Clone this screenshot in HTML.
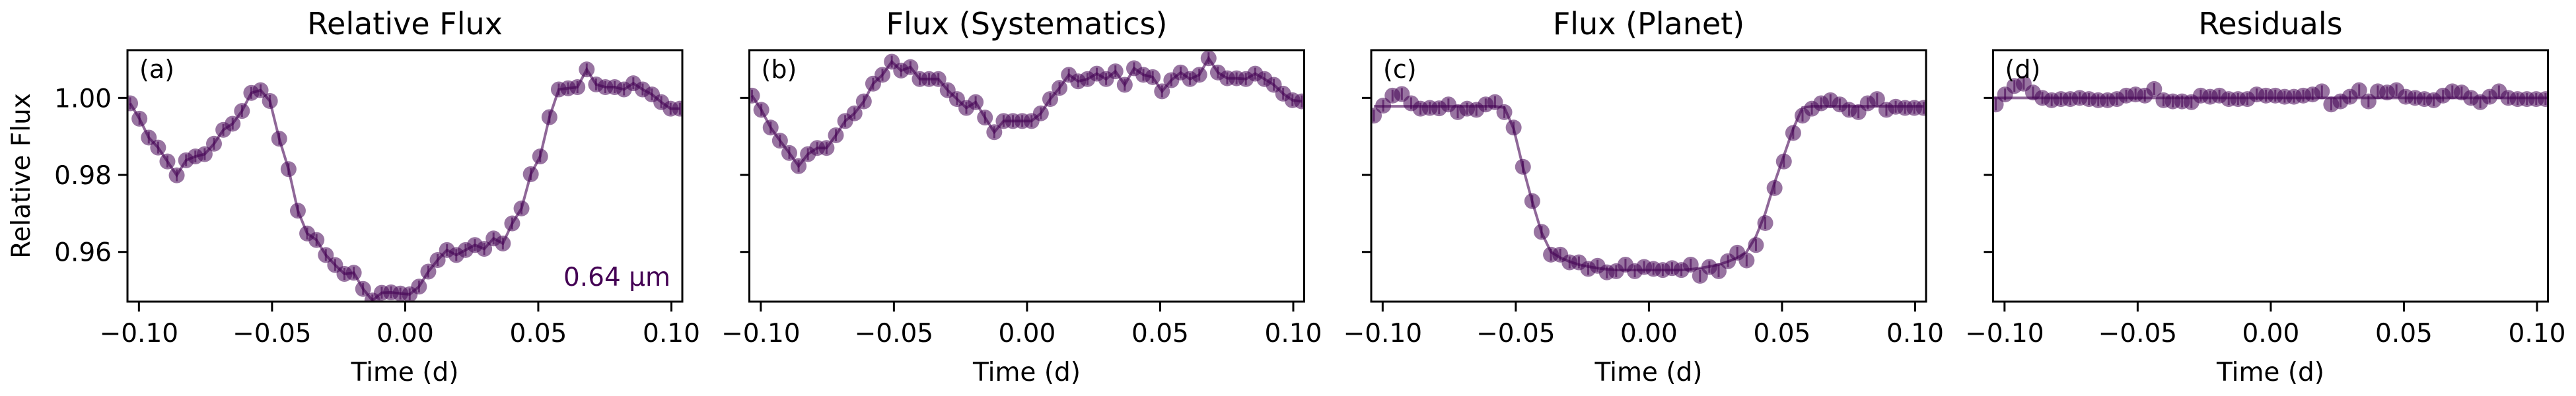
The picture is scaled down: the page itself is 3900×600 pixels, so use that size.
<!DOCTYPE html>
<html><head><meta charset="utf-8"><style>
html,body{margin:0;padding:0;background:#fff;}
svg{display:block;font-family:"DejaVu Sans","Liberation Sans",sans-serif;}
</style></head><body>
<svg id="fig" width="3900" height="600" viewBox="0 0 3900 600" xmlns="http://www.w3.org/2000/svg"></svg>
<script>
const panelTitles = ["Relative Flux","Flux (Systematics)","Flux (Planet)","Residuals"];
const panelLetters = ["(a)","(b)","(c)","(d)"];
const xTicks = [-0.10,-0.05,0.00,0.05,0.10];
const xTickLabels = ["\u22120.10","\u22120.05","0.00","0.05","0.10"];
const yTicks = [0.96,0.98,1.00];
const yTickLabels = ["0.96","0.98","1.00"];
const tStart = -0.1033, tStep = 0.0035;
const fluxA = [0.9986,0.9946,0.9897,0.9871,0.9835,0.9799,0.9838,0.9848,0.9854,0.9881,0.9917,0.9933,0.9966,1.0013,1.0020,0.9992,0.9894,0.9815,0.9707,0.9648,0.9631,0.9592,0.9566,0.9543,0.9546,0.9504,0.9474,0.9494,0.9495,0.9492,0.9490,0.9510,0.9549,0.9579,0.9605,0.9592,0.9605,0.9618,0.9608,0.9635,0.9622,0.9674,0.9713,0.9802,0.9848,0.9950,1.0022,1.0025,1.0028,1.0074,1.0035,1.0028,1.0028,1.0022,1.0038,1.0022,1.0009,0.9989,0.9972,0.9972];
const fluxB = [1.0006,0.9969,0.9923,0.9889,0.9857,0.9823,0.9854,0.9870,0.9870,0.9903,0.9940,0.9960,0.9991,1.0037,1.0060,1.0094,1.0071,1.0080,1.0049,1.0049,1.0049,1.0020,0.9997,0.9974,0.9989,0.9949,0.9911,0.9940,0.9940,0.9940,0.9940,0.9960,0.9997,1.0026,1.0060,1.0043,1.0049,1.0063,1.0049,1.0069,1.0034,1.0077,1.0060,1.0054,1.0017,1.0046,1.0066,1.0049,1.0060,1.0103,1.0066,1.0051,1.0051,1.0049,1.0063,1.0049,1.0034,1.0011,0.9994,0.9991];
const fluxC = [0.9954,0.9980,1.0006,1.0010,0.9986,0.9972,0.9974,0.9973,0.9983,0.9963,0.9972,0.9969,0.9983,0.9989,0.9963,0.9923,0.9821,0.9732,0.9652,0.9593,0.9593,0.9573,0.9573,0.9556,0.9564,0.9547,0.9550,0.9567,0.9550,0.9561,0.9556,0.9553,0.9558,0.9553,0.9567,0.9538,0.9561,0.9550,0.9576,0.9598,0.9578,0.9618,0.9675,0.9766,0.9835,0.9909,0.9954,0.9972,0.9986,0.9994,0.9983,0.9969,0.9963,0.9986,0.9997,0.9969,0.9977,0.9974,0.9974,0.9974];
const modelC = [0.9978,0.9978,0.9978,0.9978,0.9978,0.9978,0.9978,0.9978,0.9978,0.9978,0.9978,0.9978,0.9978,0.9978,0.9975,0.9920,0.9820,0.9730,0.9650,0.9600,0.9585,0.9575,0.9567,0.9562,0.9558,0.9555,0.9553,0.9553,0.9553,0.9553,0.9553,0.9553,0.9553,0.9553,0.9555,0.9558,0.9562,0.9567,0.9575,0.9585,0.9600,0.9640,0.9700,0.9780,0.9850,0.9920,0.9975,0.9978,0.9978,0.9978,0.9978,0.9978,0.9978,0.9978,0.9978,0.9978,0.9978,0.9978,0.9978,0.9978];
const resid = [0.9983,1.0009,1.0031,1.0037,1.0014,1.0000,0.9994,0.9997,0.9997,1.0000,0.9997,0.9994,0.9994,0.9997,1.0006,1.0009,1.0006,1.0023,0.9994,0.9991,0.9991,0.9989,1.0006,1.0003,1.0006,0.9997,0.9997,0.9997,1.0009,1.0006,1.0006,1.0003,1.0003,1.0006,1.0009,1.0017,0.9983,0.9991,1.0003,1.0020,0.9991,1.0017,1.0014,1.0020,1.0003,1.0000,0.9997,0.9994,1.0006,1.0017,1.0014,1.0000,0.9989,1.0003,1.0017,1.0000,0.9997,0.9997,0.9997,0.9997];
const modelD = [1.0,1.0];

const NS="http://www.w3.org/2000/svg";
const svg=document.getElementById('fig');
const lefts=[193,1134.5,2076,3017.5], W=840, TOP=76, BOT=457;
const XMIN=-0.1043, XMAX=0.1041, YMIN=0.9471, YMAX=1.0124;
const C="#440154";
function mk(tag,attrs,parent){const e=document.createElementNS(NS,tag);for(const k in attrs)e.setAttribute(k,attrs[k]);(parent||svg).appendChild(e);return e;}
const times=fluxA.map((_,i)=>tStart+i*tStep);
const series=[[fluxA,fluxA],[fluxB,fluxB],[fluxC,modelC],[resid,null]];
for(let p=0;p<4;p++){
  const L=lefts[p];
  const xs=v=>L+(v-XMIN)/(XMAX-XMIN)*W;
  const ys=v=>BOT-(v-YMIN)/(YMAX-YMIN)*(BOT-TOP);
  const g=mk('g',{});
  
  
  const cid='clip'+p;
  const cp=mk('clipPath',{id:cid},g);mk('rect',{x:L,y:TOP,width:W,height:BOT-TOP},cp);
  const t=mk('text',{x:L+W/2,y:52,'font-size':46,'text-anchor':'middle'},g);t.textContent=panelTitles[p];
  
  
  const plot=mk('g',{'clip-path':'url(#'+cid+')'},g);
  const [data,model]=series[p];
  // model line
  let pts;
  if(p===3){pts=[[xs(XMIN),ys(modelD[0])],[xs(XMAX),ys(modelD[1])]];}
  else pts=times.map((tt,i)=>[xs(tt),ys(model[i])]);
  const ln=mk('polyline',{points:pts.map(q=>q.join(',')).join(' '),fill:'none',stroke:C,'stroke-opacity':0.6,'stroke-width':4},plot);
  
  
  data.forEach((v,i)=>{
    const cx=xs(times[i]),cy=ys(v);
    const c=mk('circle',{cx:cx,cy:cy,r:12,fill:C,'fill-opacity':0.55},plot);
    
    
    const e=mk('line',{x1:cx,x2:cx,y1:cy-9,y2:cy+9,stroke:C,'stroke-opacity':0.6,'stroke-width':3},plot);
    
    
  });
  const lt=mk('text',{x:L+18,y:118,'font-size':38},g);lt.textContent=panelLetters[p];
  
  
  const fr=mk('rect',{x:L,y:TOP,width:W,height:BOT-TOP,fill:'none',stroke:'#000','stroke-width':3},g);
  
  
  xTicks.forEach((v,i)=>{
    mk('line',{x1:xs(v),x2:xs(v),y1:BOT,y2:BOT+15,stroke:'#000','stroke-width':3},g);
    const tl=mk('text',{x:xs(v),y:518,'font-size':39,'text-anchor':'middle'},g);tl.textContent=xTickLabels[i];
    
    
  });
  yTicks.forEach((v,i)=>{
    mk('line',{x1:L-14,x2:L,y1:ys(v),y2:ys(v),stroke:'#000','stroke-width':3},g);
    if(p===0){const yl=mk('text',{x:L-24,y:ys(v)+14,'font-size':39,'text-anchor':'end'},g);yl.textContent=yTickLabels[i];
      
      }
  });
  const xl=mk('text',{x:L+W/2,y:577,'font-size':39,'text-anchor':'middle'},g);xl.textContent='Time (d)';
  
  
  if(p===0){
    const ylab=mk('text',{x:0,y:0,'font-size':39,'text-anchor':'middle',transform:'translate(45,'+((TOP+BOT)/2)+') rotate(-90)'},g);ylab.textContent='Relative Flux';
    
    
    const wl=mk('text',{x:L+W-18,y:433,'font-size':39,'text-anchor':'end',fill:C},g);wl.textContent='0.64 \u00b5m';
    
    
  }
}
</script>
</body></html>
